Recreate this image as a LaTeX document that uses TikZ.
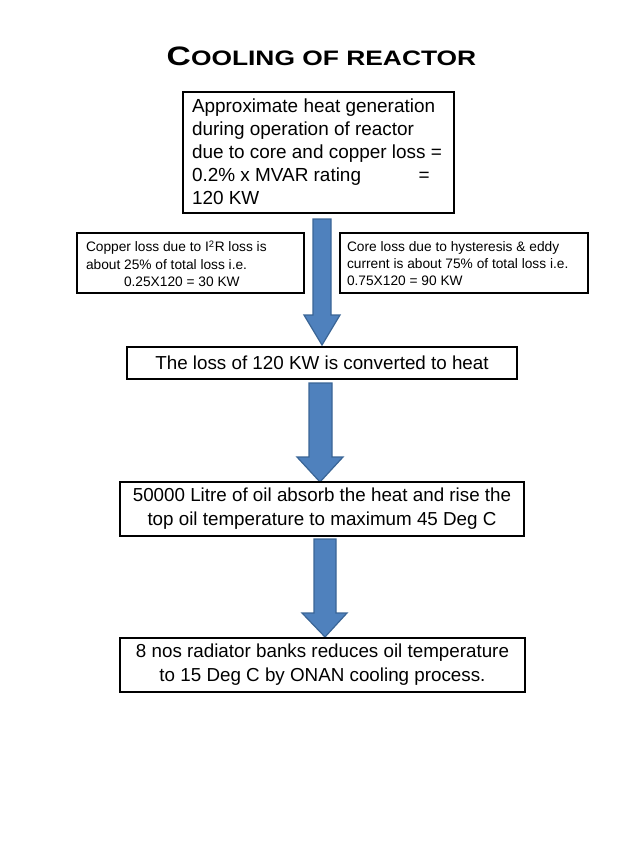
\documentclass[tikz,border=0pt]{standalone}
\usepackage{fontspec}
\setmainfont{Liberation Sans}
\newfontfamily\titlefont[FakeStretch=1.26]{Liberation Sans}
\definecolor{arrowfill}{HTML}{4F81BD}
\definecolor{arrowline}{HTML}{3A6596}
\begin{document}
\begin{tikzpicture}[x=0.75pt,y=-0.75pt,
  box/.style={draw=black, line width=1.9pt, fill=white, inner sep=0pt},
  bigtxt/.style={font=\fontsize{14.1}{18}\selectfont},
  toptxt/.style={font=\fontsize{14.2}{17.3}\selectfont},
  smalltxt/.style={font=\fontsize{10.3}{13}\selectfont},
  lefttext/.style={anchor=west, align=left, inner sep=0pt},
  blockarrow/.style={fill=arrowfill, draw=arrowline, line width=0.9pt, line join=miter}]
\useasboundingbox (0,0) rectangle (638,851);
% title
\node[font=\titlefont\bfseries] (title) at (321.5,56)
  {{\fontsize{20}{20}\selectfont C}{\fontsize{15.7}{16}\selectfont OOLING OF REACTOR}};
% top box
\node[box, minimum width=203.25pt, minimum height=90.75pt] (top) at (318.5,152.5) {};
\node[lefttext, toptxt] (toptext) at ([xshift=7.5pt,yshift=0.5pt]top.west)
  {Approximate heat generation\\
   during operation of reactor\\
   due to core and copper loss =\\
   \makebox[170pt][l]{0.2\% x MVAR rating}=\\
   120 KW};
% side boxes
\node[box, minimum width=170.25pt, minimum height=45pt] (cu) at (190.5,263) {};
\node[lefttext, smalltxt] (cutext) at ([xshift=7.5pt,yshift=-0.5pt]cu.west)
  {Copper loss due to I\textsuperscript{\scriptsize 2}R loss is\\
   about 25\% of total loss i.e.\\
   \hspace*{28.5pt}0.25X120 = 30 KW};
\node[box, minimum width=186pt, minimum height=45pt] (core) at (464,263) {};
\node[lefttext, smalltxt] (coretext) at ([xshift=6pt,yshift=-0.5pt]core.west)
  {Core loss due to hysteresis \& eddy\\
   current is about 75\% of total loss i.e.\\
   0.75X120 = 90 KW};
% arrows
\draw[blockarrow] (313,219) -- (331,219) -- (331,315) -- (340,315) -- (322,345)
  -- (304,315) -- (313,315) -- cycle;
% loss box
\node[box, bigtxt, minimum width=292.5pt, minimum height=24pt] (loss) at (322,363)
  {The loss of 120 KW is converted to heat};
\draw[blockarrow] (309,383) -- (332,383) -- (332,457) -- (343,457) -- (320,482)
  -- (297,457) -- (309,457) -- cycle;
% oil box
\node[box, bigtxt, minimum width=303pt, minimum height=40.5pt, align=center] (oil) at (322,509)
  {50000 Litre of oil absorb the heat and rise the\\
   top oil temperature to maximum 45 Deg C};
\draw[blockarrow] (314,539) -- (336,539) -- (336,613) -- (347,613) -- (325,637)
  -- (302,613) -- (314,613) -- cycle;
% radiator box
\node[box, bigtxt, minimum width=303.75pt, minimum height=40.5pt, align=center] (rad) at (322.5,665)
  {8 nos radiator banks reduces oil temperature\\
   to 15 Deg C by ONAN cooling process.};
\end{tikzpicture}
\end{document}
